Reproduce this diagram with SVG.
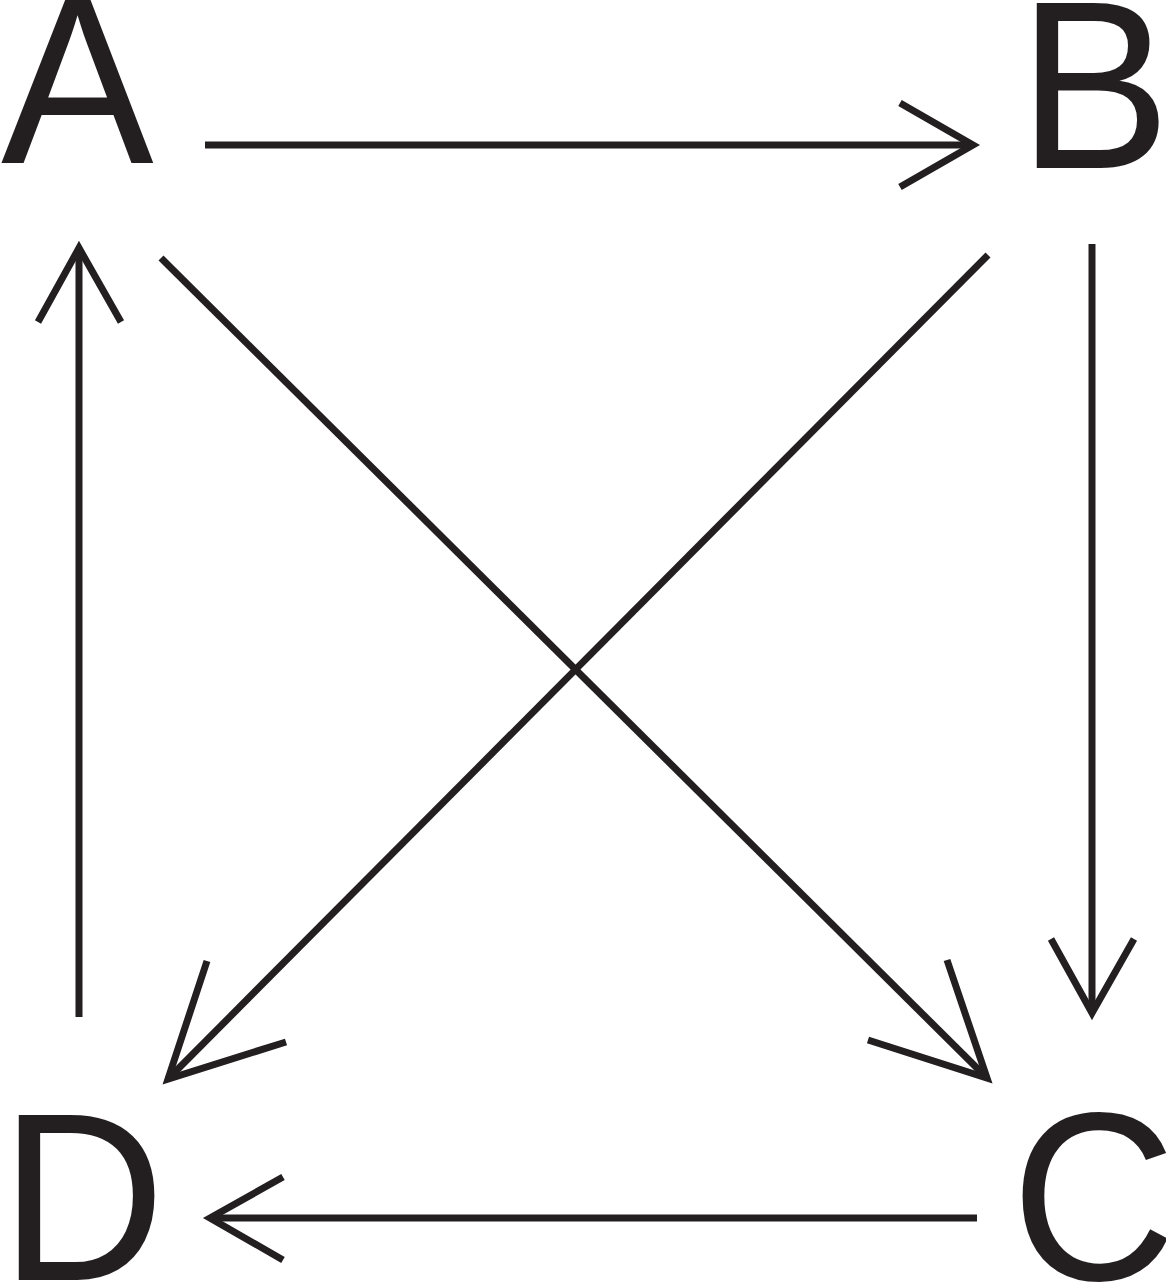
<svg xmlns="http://www.w3.org/2000/svg" width="1166" height="1285" viewBox="0 0 1166 1285">
<style>
.lbl{font-family:"Liberation Sans",Arial,sans-serif;font-size:229px;fill:#231f20}
.ln{stroke:#231f20;stroke-width:7;fill:none;stroke-linecap:butt}
.hd{stroke:#231f20;stroke-width:7;fill:none;stroke-linejoin:miter}
</style>
<rect width="1166" height="1285" fill="#fff"/>
<g id="node-A"><text class="lbl" transform="translate(1,163) scale(1,1.045)">A</text></g>
<g id="node-B"><text class="lbl" transform="translate(1018,168) scale(1,1.045)">B</text></g>
<g id="node-C"><text class="lbl" transform="translate(1011,1280) scale(1,1.045)">C</text></g>
<g id="node-D"><text class="lbl" transform="translate(0,1280) scale(1,1.045)">D</text></g>
<g id="connectors">
<line class="ln" x1="205" y1="145" x2="973" y2="145"/>
<polyline class="hd" points="900,103 973,145 900,187"/>
<line class="ln" x1="1092" y1="244" x2="1092" y2="1013"/>
<polyline class="hd" points="1051,939 1092,1013 1134,939"/>
<line class="ln" x1="977" y1="1218" x2="210" y2="1218"/>
<polyline class="hd" points="283,1177 210,1218 283,1260"/>
<line class="ln" x1="79" y1="1017" x2="79" y2="248"/>
<polyline class="hd" points="38,322 79,248 121,322"/>
<line class="ln" x1="161" y1="258" x2="987" y2="1078"/>
<polyline class="hd" points="947,960 987,1078 868,1040"/>
<line class="ln" x1="988" y1="255" x2="168" y2="1079"/>
<polyline class="hd" points="207,961 168,1079 286,1042"/>
</g>
</svg>
